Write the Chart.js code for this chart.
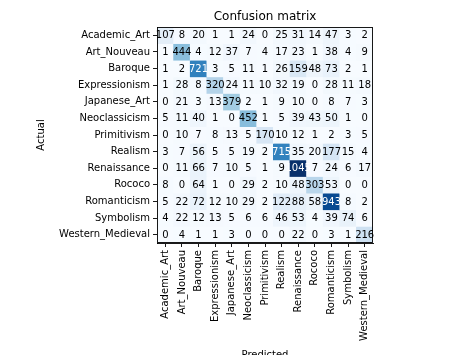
<!DOCTYPE html>
<html>
<head>
<meta charset="utf-8">
<script src="https://cdn.jsdelivr.net/npm/chart.js@4/dist/chart.umd.min.js"></script>
<style>
  html, body { margin: 0; padding: 0; background: #fff; }
  canvas { display: block; }
</style>
</head>
<body>
<canvas id="c" width="474" height="355"></canvas>
<script>
const classes = ["Academic_Art","Art_Nouveau","Baroque","Expressionism","Japanese_Art","Neoclassicism","Primitivism","Realism","Renaissance","Rococo","Romanticism","Symbolism","Western_Medieval"];

const rowAcademicArt     = [107, 8, 20, 1, 1, 24, 0, 25, 31, 14, 47, 3, 2];
const rowArtNouveau      = [1, 444, 4, 12, 37, 7, 4, 17, 23, 1, 38, 4, 9];
const rowBaroque         = [1, 2, 721, 3, 5, 11, 1, 26, 159, 48, 73, 2, 1];
const rowExpressionism   = [1, 28, 8, 320, 24, 11, 10, 32, 19, 0, 28, 11, 18];
const rowJapaneseArt     = [0, 21, 3, 13, 379, 2, 1, 9, 10, 0, 8, 7, 3];
const rowNeoclassicism   = [5, 11, 40, 1, 0, 452, 1, 5, 39, 43, 50, 1, 0];
const rowPrimitivism     = [0, 10, 7, 8, 13, 5, 170, 10, 12, 1, 2, 3, 5];
const rowRealism         = [3, 7, 56, 5, 5, 19, 2, 715, 35, 20, 177, 15, 4];
const rowRenaissance     = [0, 11, 66, 7, 10, 5, 1, 9, 1045, 7, 24, 6, 17];
const rowRococo          = [8, 0, 64, 1, 0, 29, 2, 10, 48, 303, 53, 0, 0];
const rowRomanticism     = [5, 22, 72, 12, 10, 29, 2, 122, 88, 58, 943, 8, 2];
const rowSymbolism       = [4, 22, 12, 13, 5, 6, 6, 46, 53, 4, 39, 74, 6];
const rowWesternMedieval = [0, 4, 1, 1, 3, 0, 0, 0, 22, 0, 3, 1, 216];

const matrix = [rowAcademicArt, rowArtNouveau, rowBaroque, rowExpressionism, rowJapaneseArt,
  rowNeoclassicism, rowPrimitivism, rowRealism, rowRenaissance, rowRococo,
  rowRomanticism, rowSymbolism, rowWesternMedieval];

const maxVal = Math.max(...matrix.flat());
const thresh = maxVal / 2;

// matplotlib "Blues"
const blues = ["#f7fbff","#deebf7","#c6dbef","#9ecae1","#6baed6","#4292c6","#2171b5","#08519c","#08306b"];
function hex(h){ return [parseInt(h.slice(1,3),16), parseInt(h.slice(3,5),16), parseInt(h.slice(5,7),16)]; }
function bluesColor(t){
  t = Math.max(0, Math.min(1, t));
  const p = t * (blues.length - 1);
  const i = Math.min(Math.floor(p), blues.length - 2);
  const f = p - i;
  const a = hex(blues[i]), b = hex(blues[i+1]);
  const c = a.map((v,k)=> Math.round(v + (b[k]-v)*f));
  return `rgb(${c[0]},${c[1]},${c[2]})`;
}

const FONT = "'DejaVu Sans', sans-serif";

const datasets = matrix.map((row, i) => ({
  label: classes[i],
  data: row.map(() => [i, i + 1]),
  values: row,
  backgroundColor: row.map(v => bluesColor(v / maxVal)),
  borderWidth: 0,
  barPercentage: 1,
  categoryPercentage: 1,
  grouped: false
}));

const cellText = {
  id: 'cellText',
  afterDatasetsDraw(chart) {
    const ctx = chart.ctx;
    ctx.save();
    ctx.font = "10px " + FONT;
    ctx.textAlign = 'center';
    ctx.textBaseline = 'middle';
    chart.data.datasets.forEach((ds, di) => {
      const meta = chart.getDatasetMeta(di);
      meta.data.forEach((el, j) => {
        const v = ds.values[j];
        const p = el.getCenterPoint();
        ctx.fillStyle = v > thresh ? '#fff' : '#000';
        ctx.fillText(String(v), p.x, p.y + 0.5);
      });
    });
    const a = chart.chartArea;
    ctx.strokeStyle = '#000';
    ctx.lineWidth = 0.9;
    ctx.strokeRect(Math.round(a.left) + 0.5, Math.round(a.top) + 0.5, Math.round(a.right - a.left) - 1, Math.round(a.bottom - a.top) - 1);
    ctx.restore();
  }
};

new Chart(document.getElementById('c'), {
  type: 'bar',
  data: { labels: classes, datasets },
  options: {
    responsive: false,
    animation: false,
    events: [],
    layout: { padding: { left: 35, right: 101, top: 0, bottom: 0 } },
    plugins: {
      legend: { display: false },
      tooltip: { enabled: false },
      title: {
        display: true,
        text: 'Confusion matrix',
        fullSize: false,
        color: '#000',
        font: { family: FONT, size: 12, weight: 'normal' },
        padding: { top: 10, bottom: 2.6 }
      }
    },
    scales: {
      x: {
        type: 'category',
        offset: true,
        grid: { offset: false, drawOnChartArea: false, drawTicks: true, tickLength: 4, color: '#000', tickWidth: 0.9 },
        border: { display: true, color: '#000', width: 0.9 },
        ticks: { autoSkip: false, minRotation: 90, maxRotation: 90, padding: 3, color: '#000', font: { family: FONT, size: 10 } },
        title: { display: true, text: 'Predicted', color: '#000', font: { family: FONT, size: 10 }, padding: { top: 0, bottom: -6 } },
        afterFit(s) { s.height = 112; s.paddingLeft = 0; s.paddingRight = 0; }
      },
      y: {
        type: 'linear',
        min: 0,
        max: classes.length,
        reverse: true,
        afterBuildTicks(s) { s.ticks = classes.map((_, i) => ({ value: i + 0.5 })); },
        grid: { drawOnChartArea: false, drawTicks: true, tickLength: 4, color: '#000', tickWidth: 0.9 },
        border: { display: true, color: '#000', width: 0.9 },
        ticks: {
          padding: 3, color: '#000', font: { family: FONT, size: 10 },
          callback(v) { return classes[Math.round(v - 0.5)]; }
        },
        title: { display: true, text: 'Actual', color: '#000', font: { family: FONT, size: 10 }, padding: { top: 0, bottom: 0 } },
        afterFit(s) { s.width = 122; s.paddingTop = 0; s.paddingBottom = 0; }
      }
    }
  },
  plugins: [cellText]
});
</script>
</body>
</html>
